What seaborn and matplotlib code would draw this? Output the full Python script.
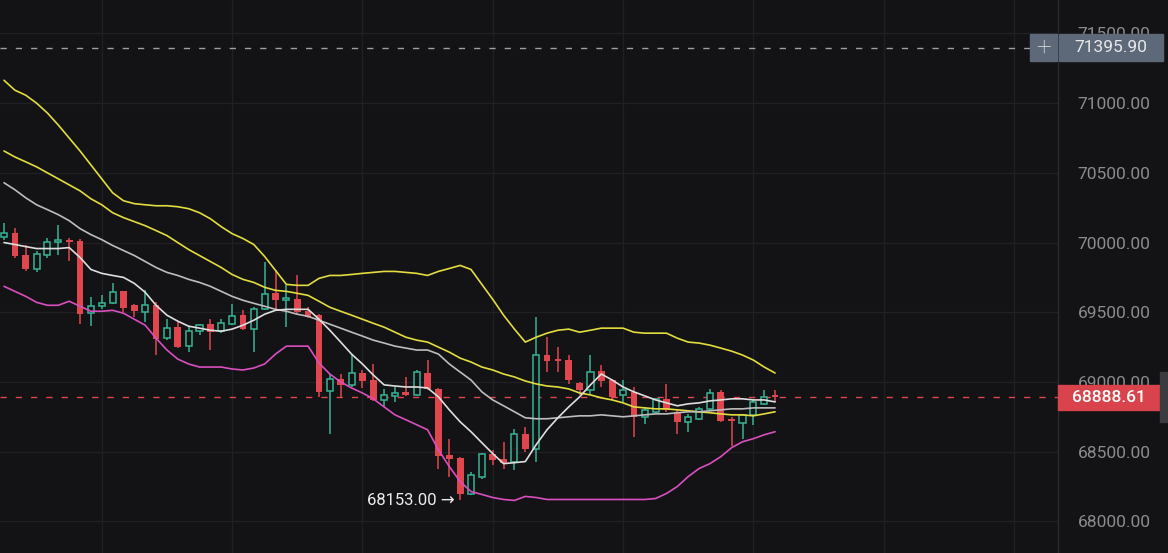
import numpy as np
import pandas as pd
import matplotlib
matplotlib.use("Agg")
import matplotlib.pyplot as plt
import matplotlib.transforms as mtransforms
from matplotlib.patches import Rectangle
import seaborn as sns

# candle data
opens = [70043, 70071, 69914, 69807, 69914, 70007, 70021, 70014, 69493, 69543,
         69564, 69650, 69550, 69500, 69550, 69314, 69393, 69257, 69364, 69414,
         69364, 69414, 69479, 69379, 69521, 69636, 69586, 69593, 69507, 69479,
         68936, 69021, 68979, 69064, 69014, 68871, 68900, 68929, 68907, 69064,
         68950, 68479, 68457, 68193, 68321, 68486, 68450, 68429, 68629, 68521,
         69193, 69164, 69157, 68993, 68943, 69079, 69014, 68907, 68929, 68750,
         68786, 68879, 68786, 68714, 68736, 68807, 68929, 68736, 68707, 68764,
         68843, 68907]
closes = [70071, 69907, 69807, 69921, 70007, 70021, 70007, 69486, 69543, 69564,
          69643, 69529, 69507, 69550, 69307, 69386, 69250, 69364, 69407, 69357,
          69421, 69471, 69379, 69521, 69629, 69586, 69600, 69500, 69464, 68929,
          69021, 68979, 69064, 69007, 68871, 68907, 68921, 68907, 69071, 68950,
          68471, 68450, 68193, 68329, 68486, 68443, 68421, 68629, 68521, 69193,
          69150, 69150, 69014, 68943, 69071, 69007, 68893, 68943, 68750, 68800,
          68879, 68800, 68714, 68750, 68807, 68921, 68721, 68721, 68764, 68857,
          68893, 68888.61]
highs = [70143, 70107, 69986, 69943, 70036, 70129, 70036, 70029, 69607, 69621,
         69707, 69655, 69557, 69657, 69571, 69450, 69429, 69400, 69414, 69450,
         69450, 69557, 69514, 69536, 69857, 69800, 69693, 69764, 69536, 69486,
         69057, 69057, 69200, 69086, 69129, 68950, 68964, 69036, 69086, 69157,
         68955, 68593, 68460, 68357, 68490, 68514, 68571, 68664, 68679, 69464,
         69321, 69250, 69193, 69000, 69193, 69121, 69018, 69014, 68964, 68821,
         68885, 68986, 68807, 68771, 68821, 68950, 68943, 68750, 68771, 68879,
         68943, 68943]
lows = [70021, 69886, 69795, 69786, 69886, 69914, 69871, 69414, 69400, 69521,
        69557, 69500, 69464, 69429, 69193, 69300, 69245, 69214, 69336, 69229,
        69350, 69407, 69371, 69214, 69514, 69514, 69393, 69486, 69460, 68893,
        68629, 68893, 68964, 68957, 68865, 68821, 68857, 68900, 68900, 68945,
        68379, 68321, 68153, 68186, 68307, 68407, 68379, 68371, 68500, 68429,
        69071, 69071, 68986, 68907, 68907, 68964, 68871, 68857, 68607, 68700,
        68779, 68786, 68629, 68643, 68730, 68800, 68714, 68543, 68593, 68693,
        68836, 68857]

# indicator lines
bb_upper = [71164, 71093, 71057, 71000, 70929, 70843, 70750, 70657, 70557, 70457,
            70357, 70300, 70279, 70271, 70264, 70264, 70257, 70243, 70214, 70171,
            70114, 70064, 70029, 69986, 69900, 69800, 69700, 69693, 69693, 69743,
            69764, 69764, 69771, 69779, 69786, 69793, 69793, 69786, 69779, 69764,
            69793, 69814, 69836, 69807, 69700, 69593, 69479, 69379, 69286, 69321,
            69350, 69371, 69379, 69357, 69371, 69386, 69386, 69386, 69357, 69350,
            69350, 69350, 69314, 69286, 69279, 69264, 69243, 69221, 69193, 69157,
            69107, 69064]
ma_long = [70657, 70614, 70579, 70543, 70500, 70457, 70414, 70371, 70314, 70271,
           70214, 70179, 70150, 70121, 70086, 70050, 70000, 69950, 69907, 69864,
           69821, 69771, 69736, 69714, 69679, 69657, 69650, 69636, 69621, 69579,
           69536, 69507, 69479, 69450, 69421, 69393, 69357, 69321, 69300, 69286,
           69250, 69214, 69171, 69143, 69107, 69086, 69057, 69036, 69007, 68986,
           68971, 68964, 68950, 68921, 68907, 68886, 68871, 68850, 68821, 68814,
           68807, 68807, 68800, 68793, 68786, 68779, 68771, 68764, 68764, 68757,
           68771, 68786]
bb_mid = [70429, 70379, 70321, 70271, 70236, 70200, 70157, 70100, 70057, 70021,
          69979, 69943, 69907, 69864, 69821, 69786, 69764, 69736, 69714, 69686,
          69650, 69614, 69586, 69564, 69543, 69521, 69507, 69486, 69471, 69443,
          69414, 69386, 69357, 69329, 69300, 69279, 69257, 69243, 69229, 69229,
          69200, 69129, 69071, 69014, 68929, 68871, 68829, 68786, 68743, 68736,
          68736, 68743, 68750, 68757, 68757, 68764, 68757, 68750, 68757, 68764,
          68771, 68771, 68779, 68786, 68786, 68793, 68800, 68807, 68807, 68814,
          68814, 68814]
ma_fast = [70000, 69986, 69971, 69957, 69957, 69957, 69964, 69893, 69807, 69779,
           69764, 69750, 69707, 69643, 69550, 69479, 69436, 69400, 69386, 69371,
           69364, 69379, 69407, 69443, 69486, 69514, 69521, 69521, 69521, 69450,
           69371, 69286, 69200, 69129, 69050, 68979, 68971, 68964, 68964, 68957,
           68893, 68800, 68714, 68643, 68564, 68486, 68414, 68421, 68429, 68550,
           68657, 68743, 68821, 68893, 68979, 69057, 69014, 68964, 68929, 68900,
           68871, 68850, 68829, 68843, 68850, 68864, 68871, 68879, 68879, 68871,
           68871, 68857]
bb_lower = [69686, 69650, 69614, 69571, 69550, 69550, 69579, 69543, 69507, 69507,
            69514, 69493, 69450, 69407, 69314, 69229, 69164, 69129, 69107, 69107,
            69107, 69093, 69086, 69100, 69129, 69200, 69257, 69257, 69257, 69136,
            69057, 69000, 68957, 68921, 68879, 68821, 68764, 68729, 68693, 68657,
            68514, 68393, 68286, 68214, 68193, 68171, 68157, 68150, 68179, 68171,
            68157, 68157, 68157, 68157, 68157, 68157, 68157, 68157, 68157, 68157,
            68164, 68200, 68250, 68321, 68379, 68414, 68464, 68529, 68571, 68593,
            68621, 68643]

price_ticks = [68000, 68500, 69000, 69500, 70000, 70500, 71000, 71500]
last_price = 68888.61
marker_price = 71395.90
low_price = 68153.00
low_index = 42

bg = "#131316"
green = "#37b394"
red = "#df464e"
yellow = "#e3dc3e"

sns.set_theme(style="dark", rc={"axes.facecolor": bg, "figure.facecolor": bg})
plt.rcParams["font.family"] = ["Roboto", "DejaVu Sans"]

W, H = 1168, 553
fig = plt.figure(figsize=(W / 100, H / 100), dpi=100)
ax = fig.add_axes([0, 0, 1058 / W, 1])
ax.set_facecolor(bg)

df = pd.DataFrame({"open": opens, "high": highs, "low": lows, "close": closes})
df["idx"] = np.arange(len(df))
up = df["close"] >= df["open"]

# wicks
ax.vlines(df["idx"], df["low"], df["high"],
          colors=np.where(up, green, red), lw=1.1, zorder=2)
# bodies: red filled, green hollow
dn = df[~up]
ax.bar(dn["idx"], dn["open"] - dn["close"], bottom=dn["close"], width=0.62,
       color=red, lw=0, zorder=3)
upd = df[up]
ax.bar(upd["idx"], (upd["close"] - upd["open"]).clip(lower=8), bottom=upd["open"],
       width=0.56, facecolor=bg, edgecolor=green, lw=1.1, zorder=3)

# indicator lines
for vals, col, lw in [(bb_upper, yellow, 1.2), (ma_long, yellow, 1.2),
                      (bb_mid, "#bdbdbd", 1.2), (ma_fast, "#dedede", 1.2),
                      (bb_lower, "#d94fbf", 1.2)]:
    sns.lineplot(x=df["idx"], y=vals, color=col, lw=lw, ax=ax, zorder=4)

# axes / grid
y0, y1 = 67773, 71740
ax.set_ylim(y0, y1)
ax.set_xlim(-0.37, 97.05)
ax.set_xticks(np.arange(9, 97, 12))
ax.set_yticks(price_ticks)
ax.grid(True, color="#1f1f24", lw=1)
ax.set_xlabel("")
ax.set_ylabel("")
ax.tick_params(axis="x", length=0, labelbottom=False)
ax.yaxis.tick_right()
ax.tick_params(axis="y", length=0, pad=14, labelsize=12.5, labelcolor="#8b8b8e")
ax.set_yticklabels([f"{t:.2f}" for t in price_ticks])
for s in ["top", "left", "bottom"]:
    ax.spines[s].set_visible(False)
ax.spines["right"].set_color("#2a2a2f")
ax.spines["right"].set_linewidth(1)

# price lines
ax.axhline(marker_price, xmax=1030 / 1058, color="#9c9fa6", lw=1,
           ls=(0, (4.5, 6.5)), zorder=1)
ax.axhline(last_price, color=red, lw=1, ls=(0, (4.5, 6.5)), zorder=1)

# low annotation
ax.text(low_index - 0.5, low_price, "68153.00 \u2192", ha="right", va="center",
        color="#ececec", fontsize=12, zorder=5)

# right-side labels
unit = (y1 - y0) / H
trans = mtransforms.blended_transform_factory(fig.transFigure, ax.transData)
fig.add_artist(Rectangle((1030 / W, marker_price - 13.5 * unit), 27 / W, 27 * unit,
                         transform=trans, color="#5d6879", zorder=6))
fig.add_artist(Rectangle((1059 / W, marker_price - 13.5 * unit), 104 / W, 27 * unit,
                         transform=trans, color="#5d6879", zorder=6))
fig.text(1043.5 / W, marker_price, "+", transform=trans, ha="center", va="center",
         color="#e4e6ea", fontsize=19, fontweight="light", zorder=7)
fig.text(1111 / W, marker_price, f"{marker_price:.2f}", transform=trans,
         ha="center", va="center", color="#e8e8ea", fontsize=12.5, zorder=7)

fig.add_artist(Rectangle((1058 / W, last_price - 12.5 * unit), 102 / W, 25 * unit,
                         transform=trans, color="#d9444c", zorder=6))
fig.add_artist(Rectangle((1160 / W, last_price - 25 * unit), 8 / W, 50 * unit,
                         transform=trans, color="#3b3b40", zorder=6))
fig.text(1109 / W, last_price, f"{last_price:.2f}", transform=trans,
         ha="center", va="center", color="white", fontsize=12.5,
         fontweight="medium", zorder=7)

fig.savefig("out.png", dpi=100, facecolor=bg)
